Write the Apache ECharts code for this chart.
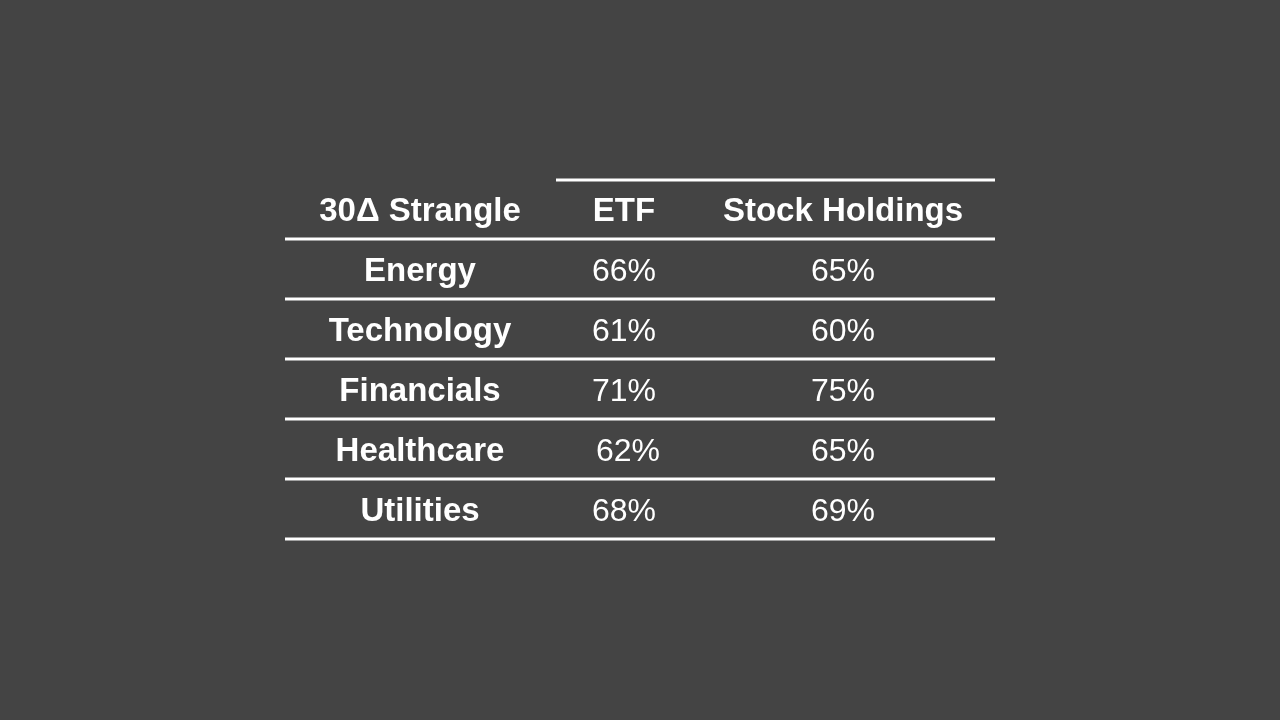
<!DOCTYPE html>
<html>
<head>
<meta charset="utf-8">
<script src="https://cdn.jsdelivr.net/npm/echarts@6/dist/echarts.min.js"></script>
<style>
html,body{margin:0;padding:0;background:#444444;}
#main{width:1280px;height:720px;}
</style>
</head>
<body>
<div id="main"></div>
<script>
var headers = ['30\u0394 Strangle', 'ETF', 'Stock Holdings'];
var sectors = ['Energy', 'Technology', 'Financials', 'Healthcare', 'Utilities'];
var etfValues = [66, 61, 71, 62, 68];
var stockValues = [65, 60, 75, 65, 69];

var chart = echarts.init(document.getElementById('main'));
var FONT = 'Liberation Sans';
var colX = [420, 624, 843];
var rowH = 60, headerY = 212, lineY0 = 239, tableLeft = 285, tableRight = 995, topLineLeft = 556, topLineY = 180;
var nudge = {Healthcare: [0, 4, 0]};

var g = [];
function line(x1, y, x2) {
  g.push({type: 'line', shape: {x1: x1, y1: y, x2: x2, y2: y}, style: {stroke: '#ffffff', lineWidth: 3}, silent: true});
}
function text(str, x, y, bold) {
  g.push({type: 'text', x: x, y: y, style: {text: str, fill: '#ffffff', fontFamily: FONT, fontSize: bold ? 33 : 32, fontWeight: bold ? 'bold' : 'normal', textAlign: 'center', textVerticalAlign: 'middle'}, silent: true});
}
line(topLineLeft, topLineY, tableRight);
headers.forEach(function (h, i) { text(h, colX[i], headerY, true); });
for (var r = 0; r <= sectors.length; r++) {
  line(tableLeft, lineY0 + r * rowH, tableRight);
}
sectors.forEach(function (s, r) {
  var y = headerY + (r + 1) * rowH;
  var n = nudge[s] || [0, 0, 0];
  text(s, colX[0] + n[0], y, true);
  text(etfValues[r] + '%', colX[1] + n[1], y, false);
  text(stockValues[r] + '%', colX[2] + n[2], y, false);
});

chart.setOption({
  backgroundColor: '#444444',
  animation: false,
  graphic: {elements: g}
});
</script>
</body>
</html>
